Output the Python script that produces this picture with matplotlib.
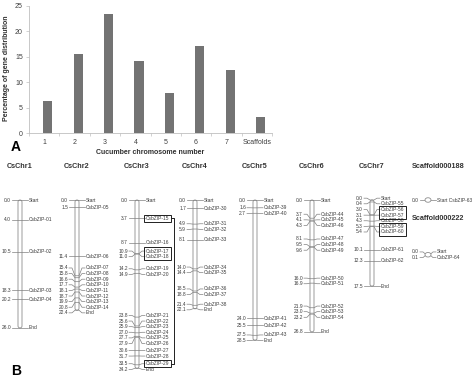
"""Distribution of cucumber bZIP genes: bar chart (A) and chromosome maps (B).
"""
import numpy as np
import matplotlib.pyplot as plt
from matplotlib.patches import FancyBboxPatch, Rectangle, Ellipse

plt.rcParams['font.family'] = ['Liberation Sans', 'DejaVu Sans']

# ---- panel A data
chrom_labels = ['1', '2', '3', '4', '5', '6', '7', 'Scaffolds']
gene_percent = [6.25, 15.6, 23.4, 14.1, 7.8, 17.2, 12.5, 3.1]

# ---- panel B data (positions in cM)
chr1_names = ['Start', 'CsbZIP-01', 'CsbZIP-02', 'CsbZIP-03', 'CsbZIP-04', 'End']
chr1_pos = [0.0, 4.0, 10.5, 18.3, 20.2, 26.0]

chr2_names = ['Start', 'CsbZIP-05', 'CsbZIP-06', 'CsbZIP-07', 'CsbZIP-08', 'CsbZIP-09',
              'CsbZIP-10', 'CsbZIP-11', 'CsbZIP-12', 'CsbZIP-13', 'CsbZIP-14', 'End']
chr2_pos = [0.0, 1.5, 11.4, 15.4, 15.8, 16.6, 17.7, 18.1, 18.7, 19.9, 20.8, 22.4]

chr3_names = ['Start', 'CsbZIP-15', 'CsbZIP-16', 'CsbZIP-17', 'CsbZIP-18', 'CsbZIP-19',
              'CsbZIP-20', 'CsbZIP-21', 'CsbZIP-22', 'CsbZIP-23', 'CsbZIP-24', 'CsbZIP-25',
              'CsbZIP-26', 'CsbZIP-27', 'CsbZIP-28', 'CsbZIP-29', 'End']
chr3_pos = [0.0, 3.7, 8.7, 10.9, 11.0, 14.2, 14.9, 23.8, 25.6, 25.9, 27.0, 27.7,
            27.9, 30.6, 31.7, 33.5, 34.2]

chr4_names = ['Start', 'CsbZIP-30', 'CsbZIP-31', 'CsbZIP-32', 'CsbZIP-33', 'CsbZIP-34',
              'CsbZIP-35', 'CsbZIP-36', 'CsbZIP-37', 'CsbZIP-38', 'End']
chr4_pos = [0.0, 1.7, 4.9, 5.9, 8.1, 14.0, 14.4, 18.5, 18.8, 21.4, 22.1]

chr5_names = ['Start', 'CsbZIP-39', 'CsbZIP-40', 'CsbZIP-41', 'CsbZIP-42', 'CsbZIP-43', 'End']
chr5_pos = [0.0, 1.6, 2.7, 24.0, 25.5, 27.5, 28.5]

chr6_names = ['Start', 'CsbZIP-44', 'CsbZIP-45', 'CsbZIP-46', 'CsbZIP-47', 'CsbZIP-48',
              'CsbZIP-49', 'CsbZIP-50', 'CsbZIP-51', 'CsbZIP-52', 'CsbZIP-53', 'CsbZIP-54', 'End']
chr6_pos = [0.0, 3.7, 4.1, 4.3, 8.1, 9.5, 9.6, 16.0, 16.9, 21.9, 23.0, 23.2, 26.8]

chr7_names = ['Start', 'CsbZIP-55', 'CsbZIP-56', 'CsbZIP-57', 'CsbZIP-58', 'CsbZIP-59',
              'CsbZIP-60', 'CsbZIP-61', 'CsbZIP-62', 'End']
chr7_pos = [0.0, 0.4, 3.0, 3.1, 4.3, 5.3, 5.4, 10.1, 12.3, 17.5]

scf188_names = ['Start CsbZIP-63']
scf188_pos = [0.0]

scf222_names = ['Start', 'CsbZIP-64']
scf222_pos = [0.0, 0.1]

# duplicated genes drawn in boxes, and the bracket linking two boxes
chr3_boxes = [['CsbZIP-15'], ['CsbZIP-17', 'CsbZIP-18'], ['CsbZIP-29']]
chr7_boxes = [['CsbZIP-56', 'CsbZIP-57'], ['CsbZIP-59', 'CsbZIP-60']]
chr3_link = ('CsbZIP-15', 'CsbZIP-29')

PX_PER_CM = 4.92   # vertical scale of the maps
Y0 = 200           # pixel row of 0 cM
LABEL_GAP = 1.14   # min distance between labels, cM

fig = plt.figure(figsize=(4.74, 3.80), dpi=100)

# ================= panel A
axA = fig.add_axes([29 / 474, 1 - 133 / 380, 243 / 474, 127 / 380])
x = np.arange(1, len(chrom_labels) + 1)
axA.bar(x + 0.12, gene_percent, width=0.3, color='#737373')
axA.set_xlim(0.5, len(chrom_labels) + 0.5)
axA.set_ylim(0, 25)
axA.set_yticks(range(0, 26, 5))
axA.set_xticks(x)
axA.set_xticklabels(chrom_labels)
axA.set_xticks(np.arange(0.5, len(chrom_labels) + 1), minor=True)
axA.tick_params(axis='x', which='major', length=0, pad=4, labelsize=5, labelcolor='#404040')
axA.tick_params(axis='x', which='minor', length=2.5, width=0.5, color='#bfbfbf')
axA.tick_params(axis='y', length=2.5, width=0.5, color='#bfbfbf', pad=2,
                labelsize=5, labelcolor='#404040')
for s in ['top', 'right']:
    axA.spines[s].set_visible(False)
for s in ['left', 'bottom']:
    axA.spines[s].set_color('#bfbfbf')
    axA.spines[s].set_linewidth(0.6)
axA.set_xlabel('Cucumber chromosome number', fontsize=5, fontweight='bold',
               color='#303030', labelpad=2.5)
fig.text(7 / 474, 1 - 68 / 380, 'Percentage of gene distribution', rotation=90,
         ha='center', va='center', fontsize=5, fontweight='bold', color='#303030')
fig.text(11 / 474, 1 - 147 / 380, 'A', fontsize=10, fontweight='bold', va='center')
fig.text(11 / 474, 1 - 371 / 380, 'B', fontsize=10, fontweight='bold', va='center')

# ================= panel B  (x in pixels, y in cM)
axB = fig.add_axes([0, 0, 1, 225 / 380])
axB.set_xlim(0, 474)
axB.set_ylim((380 - Y0) / PX_PER_CM, (155 - Y0) / PX_PER_CM)
axB.axis('off')


def spread(pos, d):
    # least squares label positions keeping a minimum gap (pool adjacent violators)
    q = [p - i * d for i, p in enumerate(pos)]
    blocks = []
    for v in q:
        blocks.append([v, 1])
        while len(blocks) > 1 and blocks[-2][0] / blocks[-2][1] > blocks[-1][0] / blocks[-1][1]:
            s, c = blocks.pop()
            blocks[-1][0] += s
            blocks[-1][1] += c
    out = []
    for s, c in blocks:
        out += [s / c] * c
    return [v + i * d for i, v in enumerate(out)]


line_kw = dict(color='#808080', lw=0.5, zorder=2)
txt_kw = dict(fontsize=3.5, color='#3c3c3c', va='center')


def draw_map(xc, names, pos, title, title_y, y_off=0.0, boxes=(), link=None):
    pos_y = [p + y_off for p in pos]
    lab_y = spread(pos_y, LABEL_GAP)
    start, end = pos_y[0], pos_y[-1]
    if end - start < 0.5:
        mid = (start + end) / 2
        axB.add_patch(Ellipse((xc, mid), 6, 4.5 / PX_PER_CM, fc='white',
                              ec='#8c8c8c', lw=0.6, zorder=3))
    else:
        axB.add_patch(FancyBboxPatch((xc - 2, start), 4, end - start,
                                     boxstyle='round,pad=0,rounding_size=2',
                                     mutation_aspect=1 / PX_PER_CM,
                                     fc='white', ec='#8c8c8c', lw=0.6, zorder=1))
    for name, p, py, ly in zip(names, pos, pos_y, lab_y):
        axB.plot([xc - 8, xc - 5, xc - 2, xc + 2, xc + 5, xc + 8],
                 [ly, ly, py, py, ly, ly], **line_kw)
        axB.text(xc - 9, ly, f'{p:.1f}', ha='right', **txt_kw)
        axB.text(xc + 9, ly, name, ha='left', **txt_kw)
    idx = {n: i for i, n in enumerate(names)}
    half = 3.6 / PX_PER_CM
    for group in boxes:
        top = lab_y[idx[group[0]]] - half
        bot = lab_y[idx[group[-1]]] + half
        axB.add_patch(Rectangle((xc + 7, top), 27, bot - top, fill=False,
                                ec='#202020', lw=0.7, zorder=4))
    if link:
        ya, yb = lab_y[idx[link[0]]], lab_y[idx[link[1]]]
        axB.plot([xc + 34, xc + 37, xc + 37, xc + 34], [ya, ya, yb, yb],
                 color='#202020', lw=0.7, zorder=4)
    axB.text(xc + (10 if title.startswith('Scaffold') else 0), title_y, title,
             ha='center', va='center', fontsize=5.2, fontweight='bold', color='#333333')


ty = (166 - Y0) / PX_PER_CM
draw_map(20, chr1_names, chr1_pos, 'CsChr1', ty)
draw_map(77, chr2_names, chr2_pos, 'CsChr2', ty)
draw_map(137, chr3_names, chr3_pos, 'CsChr3', ty, boxes=chr3_boxes, link=chr3_link)
draw_map(195, chr4_names, chr4_pos, 'CsChr4', ty)
draw_map(255, chr5_names, chr5_pos, 'CsChr5', ty)
draw_map(312, chr6_names, chr6_pos, 'CsChr6', ty)
draw_map(372, chr7_names, chr7_pos, 'CsChr7', ty, boxes=chr7_boxes)
draw_map(428, scf188_names, scf188_pos, 'Scaffold000188', ty)
draw_map(428, scf222_names, scf222_pos, 'Scaffold000222', (219 - Y0) / PX_PER_CM,
         y_off=(254.5 - Y0) / PX_PER_CM)

fig.savefig('out.png', dpi=100)
